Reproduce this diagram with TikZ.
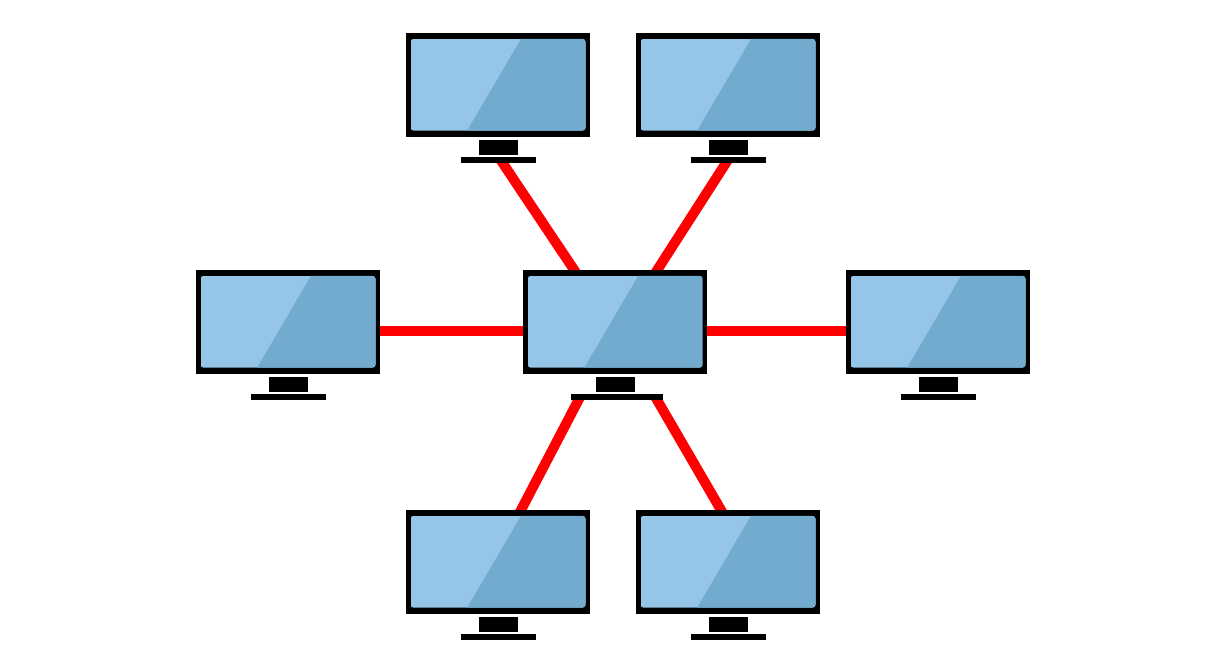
\documentclass[tikz,border=0pt]{standalone}
\usetikzlibrary{positioning,calc,backgrounds}
\definecolor{glasslight}{HTML}{95C6E8}
\definecolor{glassdark}{HTML}{73ABCE}
\tikzset{
  screen/.style={fill=black, inner sep=0pt, minimum width=184.4pt, minimum height=104pt,
    path picture={
      \coordinate (gnw) at ([shift={(4.7pt,-5.7pt)}]path picture bounding box.north west);
      \coordinate (gse) at ([shift={(-4.7pt,6.6pt)}]path picture bounding box.south east);
      \begin{scope}
        \clip[rounded corners=3pt] (gnw) rectangle (gse);
        \fill[glasslight] (gnw) rectangle (gse);
        \fill[glassdark] ([xshift=118.5pt]path picture bounding box.north west)
          -- (path picture bounding box.north east)
          -- (path picture bounding box.south east)
          -- ([xshift=57.5pt]path picture bounding box.south west) -- cycle;
      \end{scope}
    }},
  neck/.style={fill=black, inner sep=0pt, minimum width=39pt, minimum height=15.5pt, node distance=2pt},
  foot/.style={fill=black, inner sep=0pt, minimum width=75pt, minimum height=6.5pt, node distance=1pt},
  link/.style={draw=red, line width=10pt, shorten >=-5pt}
}
\begin{document}
\begin{tikzpicture}[x=1pt,y=-1pt]
  \useasboundingbox (0,0) rectangle (1232,670);

  % centre
  \node[screen](cv) at (615.2,322.2){};
  \node[neck, below=of cv](cvn){};
  \node[foot, below=of cvn, minimum width=92pt, xshift=2pt](cvf){};

  % upper row
  \node[screen](tl) at (498,85.2){};
  \node[neck, below=of tl](tln){};
  \node[foot, below=of tln](tlf){};
  \node[screen](tr) at (728,85.2){};
  \node[neck, below=of tr](trn){};
  \node[foot, below=of trn](trf){};

  % left and right
  \node[screen](lf) at (288,322.2){};
  \node[neck, below=of lf](lfn){};
  \node[foot, below=of lfn](lff){};
  \node[screen](rt) at (938,322.2){};
  \node[neck, below=of rt](rtn){};
  \node[foot, below=of rtn](rtf){};

  % lower row
  \node[screen](bl) at (498,562.2){};
  \node[neck, below=of bl](bln){};
  \node[foot, below=of bln](blf){};
  \node[screen](br) at (728,562.2){};
  \node[neck, below=of br](brn){};
  \node[foot, below=of brn](brf){};

  \begin{scope}[on background layer]
    \path[link] ([xshift=2.5pt]tlf.center) -- ([xshift=-41pt]cv.north);
    \path[link] (trf.center) -- ([xshift=42pt]cv.north);
    \path[link] ([yshift=-9pt]lf.east) -- ([yshift=-9pt]cv.west);
    \path[link] ([yshift=-9pt]rt.west) -- ([yshift=-9pt]cv.east);
    \path[link] ([xshift=-37pt]cvf.center) -- ([xshift=23pt]bl.north);
    \path[link] ([xshift=38pt]cvf.center) -- ([xshift=-7pt]br.north);
  \end{scope}
\end{tikzpicture}
\end{document}
